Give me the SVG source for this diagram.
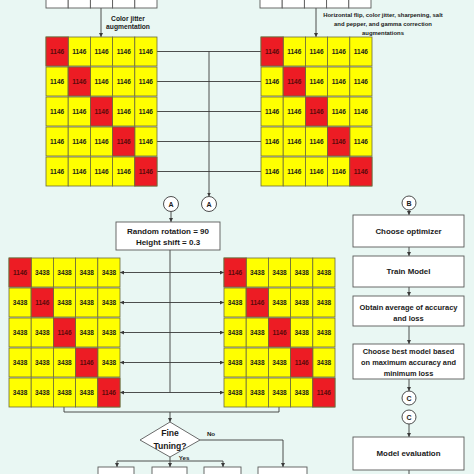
<svg xmlns="http://www.w3.org/2000/svg" xmlns:xlink="http://www.w3.org/1999/xlink" width="474" height="474" viewBox="0 0 474 474">
<style>
.bg{fill:#e9f7f3}
.y{fill:#ffff00;stroke:#6b6b3a;stroke-width:0.8}
.r{fill:#ed1c24;stroke:#6b6b3a;stroke-width:0.8}
.w{fill:#ffffff;stroke:#5a5a5a;stroke-width:0.9}
.ct{font-family:"Liberation Sans",Arial,sans-serif;font-weight:bold;font-size:6.5px;fill:#1a1a1a;text-anchor:middle}
.rt{font-family:"Liberation Sans",Arial,sans-serif;font-weight:bold;font-size:6.5px;fill:#5a0a0a;text-anchor:middle}
.t{font-family:"Liberation Sans",Arial,sans-serif;font-weight:bold;fill:#1a1a1a;text-anchor:middle}
.ln{fill:none;stroke:#3a3a3a;stroke-width:0.9}
.arr{fill:none;stroke:#3a3a3a;stroke-width:0.9;marker-end:url(#ah)}
.circ{fill:#ffffff;stroke:#3a3a3a;stroke-width:0.9}
</style>
<defs>
<marker id="ah" viewBox="0 0 6 6" refX="6" refY="3" markerWidth="4" markerHeight="4" markerUnits="userSpaceOnUse" orient="auto">
<path d="M0,0 L6,3 L0,6 z" fill="#3a3a3a"/>
</marker>
<g id="rowA">
<rect class="y" x="0" y="0" width="22.2" height="29"/>
<rect class="y" x="22.2" y="0" width="22.2" height="29"/>
<rect class="y" x="44.4" y="0" width="22.2" height="29"/>
<rect class="y" x="66.6" y="0" width="22.2" height="29"/>
<rect class="y" x="88.8" y="0" width="22.2" height="29"/>
<text class="ct" x="11.1" y="16.8">1146</text>
<text class="ct" x="33.3" y="16.8">1146</text>
<text class="ct" x="55.5" y="16.8">1146</text>
<text class="ct" x="77.7" y="16.8">1146</text>
<text class="ct" x="99.9" y="16.8">1146</text>
</g>
<g id="rowB">
<rect class="y" x="0" y="0" width="22.2" height="29"/>
<rect class="y" x="22.2" y="0" width="22.2" height="29"/>
<rect class="y" x="44.4" y="0" width="22.2" height="29"/>
<rect class="y" x="66.6" y="0" width="22.2" height="29"/>
<rect class="y" x="88.8" y="0" width="22.2" height="29"/>
<text class="ct" x="11.1" y="16.8">3438</text>
<text class="ct" x="33.3" y="16.8">3438</text>
<text class="ct" x="55.5" y="16.8">3438</text>
<text class="ct" x="77.7" y="16.8">3438</text>
<text class="ct" x="99.9" y="16.8">3438</text>
</g>
<g id="red">
<rect class="r" x="0" y="0" width="22.2" height="29"/>
<text class="rt" x="11.1" y="16.8">1146</text>
</g>
<g id="whiteRow">
<rect class="w" x="0" y="-22" width="22.2" height="30"/>
<rect class="w" x="22.2" y="-22" width="22.2" height="30"/>
<rect class="w" x="44.4" y="-22" width="22.2" height="30"/>
<rect class="w" x="66.6" y="-22" width="22.2" height="30"/>
<rect class="w" x="88.8" y="-22" width="22.2" height="30"/>
</g>
</defs>
<rect class="bg" x="0" y="0" width="474" height="474"/>

<g id="connectors">
<line class="arr" x1="101" y1="8" x2="101" y2="37"/>
<line class="arr" x1="316" y1="8" x2="316" y2="37"/>
<line class="ln" x1="157" y1="51.5" x2="261" y2="51.5"/>
<line class="ln" x1="157" y1="81.5" x2="261" y2="81.5"/>
<line class="ln" x1="157" y1="111.5" x2="261" y2="111.5"/>
<line class="ln" x1="157" y1="141.5" x2="261" y2="141.5"/>
<line class="ln" x1="157" y1="171.5" x2="261" y2="171.5"/>
<line class="arr" x1="209" y1="51.5" x2="209" y2="196.5"/>
<line class="arr" x1="171" y1="211.5" x2="171" y2="222"/>
<line class="ln" x1="170" y1="250" x2="170" y2="392.5"/>
<line class="arr" x1="170" y1="272.5" x2="120" y2="272.5"/>
<line class="arr" x1="170" y1="302.5" x2="120" y2="302.5"/>
<line class="arr" x1="170" y1="332.5" x2="120" y2="332.5"/>
<line class="arr" x1="170" y1="362.5" x2="120" y2="362.5"/>
<line class="arr" x1="170" y1="392.5" x2="120" y2="392.5"/>
<line class="arr" x1="170" y1="272.5" x2="224" y2="272.5"/>
<line class="arr" x1="170" y1="302.5" x2="224" y2="302.5"/>
<line class="arr" x1="170" y1="332.5" x2="224" y2="332.5"/>
<line class="arr" x1="170" y1="362.5" x2="224" y2="362.5"/>
<line class="arr" x1="170" y1="392.5" x2="224" y2="392.5"/>
<polyline class="ln" points="64,407 64,412 279,412 279,407"/>
<line class="arr" x1="170" y1="412" x2="170" y2="422"/>
<polyline class="arr" points="200,440 283,440 283,467"/>
<line class="ln" x1="170" y1="457" x2="170" y2="461"/>
<line class="ln" x1="117" y1="461" x2="223" y2="461"/>
<line class="arr" x1="117" y1="461" x2="117" y2="467"/>
<line class="arr" x1="170" y1="461" x2="170" y2="467"/>
<line class="arr" x1="223" y1="461" x2="223" y2="467"/>
<line class="arr" x1="409" y1="210" x2="409" y2="215"/>
<line class="arr" x1="409" y1="247" x2="409" y2="256"/>
<line class="arr" x1="409" y1="287" x2="409" y2="296"/>
<line class="arr" x1="409" y1="326" x2="409" y2="344"/>
<line class="arr" x1="409" y1="379" x2="409" y2="391"/>
<line class="arr" x1="409" y1="424" x2="409" y2="437"/>
<line class="ln" x1="409" y1="470" x2="409" y2="474"/>
</g>

<g id="top-left-input"><use xlink:href="#whiteRow" x="46" y="0"/></g>
<g id="top-right-input"><use xlink:href="#whiteRow" x="260" y="0"/></g>
<g id="label-left">
<text class="t" font-size="6.7" x="128" y="20.5">Color jitter</text>
<text class="t" font-size="6.7" x="128" y="28.5">augmentation</text>
</g>
<g id="label-right">
<text class="t" font-size="5.9" x="383" y="17">Horizontal flip, color jitter, sharpening, salt</text>
<text class="t" font-size="5.9" x="383" y="26">and pepper, and gamma correction</text>
<text class="t" font-size="5.9" x="383" y="34.5">augmentations</text>
</g>

<g id="grid-top-left">
<use xlink:href="#rowA" x="46" y="37"/><use xlink:href="#red" x="46" y="37"/>
<use xlink:href="#rowA" x="46" y="67"/><use xlink:href="#red" x="68.2" y="67"/>
<use xlink:href="#rowA" x="46" y="97"/><use xlink:href="#red" x="90.4" y="97"/>
<use xlink:href="#rowA" x="46" y="127"/><use xlink:href="#red" x="112.6" y="127"/>
<use xlink:href="#rowA" x="46" y="157"/><use xlink:href="#red" x="134.8" y="157"/>
</g>
<g id="grid-top-right">
<use xlink:href="#rowA" x="261" y="37"/><use xlink:href="#red" x="261" y="37"/>
<use xlink:href="#rowA" x="261" y="67"/><use xlink:href="#red" x="283.2" y="67"/>
<use xlink:href="#rowA" x="261" y="97"/><use xlink:href="#red" x="305.4" y="97"/>
<use xlink:href="#rowA" x="261" y="127"/><use xlink:href="#red" x="327.6" y="127"/>
<use xlink:href="#rowA" x="261" y="157"/><use xlink:href="#red" x="349.8" y="157"/>
</g>

<g id="connector-A1"><circle class="circ" cx="171" cy="204" r="7.5"/><text class="t" font-size="7" x="171" y="206.6">A</text></g>
<g id="connector-A2"><circle class="circ" cx="209" cy="204" r="7.5"/><text class="t" font-size="7" x="209" y="206.6">A</text></g>

<g id="box-rotation">
<rect class="w" x="116" y="222" width="104" height="28"/>
<text class="t" font-size="8" x="168" y="234">Random rotation = 90</text>
<text class="t" font-size="8" x="168" y="244.5">Height shift = 0.3</text>
</g>

<g id="grid-bottom-left">
<use xlink:href="#rowB" x="9" y="258"/><use xlink:href="#red" x="9" y="258"/>
<use xlink:href="#rowB" x="9" y="288"/><use xlink:href="#red" x="31.2" y="288"/>
<use xlink:href="#rowB" x="9" y="318"/><use xlink:href="#red" x="53.4" y="318"/>
<use xlink:href="#rowB" x="9" y="348"/><use xlink:href="#red" x="75.6" y="348"/>
<use xlink:href="#rowB" x="9" y="378"/><use xlink:href="#red" x="97.8" y="378"/>
</g>
<g id="grid-bottom-right">
<use xlink:href="#rowB" x="224" y="258"/><use xlink:href="#red" x="224" y="258"/>
<use xlink:href="#rowB" x="224" y="288"/><use xlink:href="#red" x="246.2" y="288"/>
<use xlink:href="#rowB" x="224" y="318"/><use xlink:href="#red" x="268.4" y="318"/>
<use xlink:href="#rowB" x="224" y="348"/><use xlink:href="#red" x="290.6" y="348"/>
<use xlink:href="#rowB" x="224" y="378"/><use xlink:href="#red" x="312.8" y="378"/>
</g>

<g id="decision-fine-tuning">
<polygon class="w" points="170,422 200,440 170,457 140,440"/>
<text class="t" font-size="8.6" x="170" y="436">Fine</text>
<text class="t" font-size="8.6" x="170" y="448.5">Tuning?</text>
</g>
<g id="label-no"><text class="t" font-size="6.2" x="211" y="436">No</text></g>
<g id="label-yes"><text class="t" font-size="6.2" x="184" y="460">Yes</text></g>
<g id="box-yes-1"><rect class="w" x="98" y="467" width="36" height="14"/></g>
<g id="box-yes-2"><rect class="w" x="152" y="467" width="35" height="14"/></g>
<g id="box-yes-3"><rect class="w" x="204" y="467" width="37" height="14"/></g>
<g id="box-no"><rect class="w" x="258" y="467" width="49" height="14"/></g>

<g id="connector-B"><circle class="circ" cx="409" cy="203" r="7"/><text class="t" font-size="7" x="409" y="205.6">B</text></g>
<g id="box-optimizer">
<rect class="w" x="353" y="215" width="111" height="32"/>
<text class="t" font-size="7.9" x="408.5" y="234">Choose optimizer</text>
</g>
<g id="box-train">
<rect class="w" x="353" y="256" width="111" height="31"/>
<text class="t" font-size="7.9" x="408.5" y="274">Train Model</text>
</g>
<g id="box-average">
<rect class="w" x="353" y="296" width="111" height="30"/>
<text class="t" font-size="7.5" x="408.5" y="310">Obtain average of accuracy</text>
<text class="t" font-size="7.5" x="408.5" y="320.5">and loss</text>
</g>
<g id="box-best">
<rect class="w" x="353" y="344" width="111" height="35"/>
<text class="t" font-size="7.4" x="408.5" y="354">Choose best model based</text>
<text class="t" font-size="7.4" x="408.5" y="365">on maximum accuracy and</text>
<text class="t" font-size="7.4" x="408.5" y="376">minimum loss</text>
</g>
<g id="connector-C1"><circle class="circ" cx="409" cy="398" r="7"/><text class="t" font-size="7" x="409" y="400.6">C</text></g>
<g id="connector-C2"><circle class="circ" cx="409" cy="417" r="7"/><text class="t" font-size="7" x="409" y="419.6">C</text></g>
<g id="box-evaluation">
<rect class="w" x="353" y="437" width="111" height="33"/>
<text class="t" font-size="7.9" x="408.5" y="456">Model evaluation</text>
</g>
</svg>
